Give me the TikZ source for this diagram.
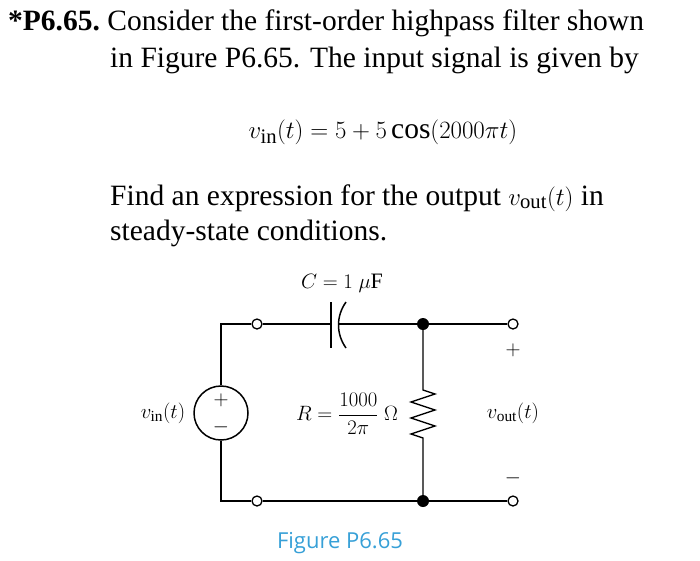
\documentclass[tikz,border=0pt]{standalone}
\usepackage{amsmath}
\usepackage{fontspec}
\setmainfont{Liberation Serif}
\newfontfamily\figfont{Open Sans}
\begin{document}
\begin{tikzpicture}[x=1pt,y=-1pt,
  txt/.style={anchor=base west,inner sep=0,font=\fontsize{29.5}{34}\selectfont},
  lab/.style={inner sep=0,font=\fontsize{22}{26}\selectfont},
  wire/.style={line width=1.3pt},
  term/.style={circle,draw,fill=white,line width=1.3pt,minimum size=10pt,inner sep=0},
  jdot/.style={circle,fill=black,minimum size=12pt,inner sep=0}]
\useasboundingbox (0,0) rectangle (700,560);
\node[txt] (l1) at (8,30) {\textbf{*P6.65.}\ Consider the first-order highpass filter shown};
\node[txt] (l2) at (110,67) {in Figure P6.65. The input signal is given by};
\node[txt,anchor=base] (eq) at (383,138) {$v_{\mathrm{in}}(t) = 5 + 5\cos(2000\pi t)$};
\node[txt] (l3) at (110,205) {Find an expression for the output $v_{\mathrm{out}}(t)$ in};
\node[txt] (l4) at (110,240) {steady-state conditions.};
% circuit
\coordinate (tl) at (221,324); \coordinate (bl) at (221,501);
\node[term] (t1) at (257,324) {}; \node[term] (b1) at (257,501) {};
\node[jdot] (jt) at (423,324) {}; \node[jdot] (jb) at (423,501) {};
\node[term] (t2) at (513,324) {}; \node[term] (b2) at (513,501) {};
\node[circle,draw,line width=1.5pt,minimum size=54pt,inner sep=0] (src) at (221,413) {};
\node[lab] at (221,400) {$+$}; \node[lab] at (221,427) {$-$};
\coordinate (c1) at (331,324); \coordinate (c2) at (339,324);
\draw[wire] (src.north) -- (tl) -- (t1) -- (c1);
\draw[wire] (src.south) -- (bl) -- (b1) -- (jb) -- (b2);
\draw[line width=1.5pt] (331,302) -- (331,348);
\draw[line width=1.5pt] (346,302) .. controls (336,316) and (336,334) .. (346,348);
\draw[wire] (c2) -- (jt) -- (t2);
\coordinate (r1) at (423,390); \coordinate (r2) at (423,438);
\draw[wire] (jt) -- (r1) -- (435,394) -- (411,402) -- (435,410) -- (411,418) -- (435,426) -- (411,434) -- (r2) -- (jb);
\node[lab] (cl) at (342,283) {$C = 1\ \mu\mathrm{F}$};
\node[lab] (rl) at (347,414) {$R = \dfrac{1000}{2\pi}\ \Omega$};
\node[lab] (vin) at (163,413) {$v_{\mathrm{in}}(t)$};
\node[lab] (vout) at (513,413) {$v_{\mathrm{out}}(t)$};
\node[lab] at (513,350) {$+$}; \node[lab] at (513,478) {$-$};
\node[inner sep=0,font=\figfont\fontsize{22}{26}\selectfont,text={rgb,255:red,55;green,160;blue,215}] (fig) at (340,543) {Figure P6.65};
\end{tikzpicture}
\end{document}
